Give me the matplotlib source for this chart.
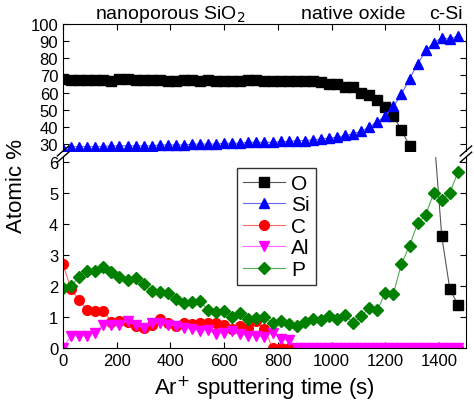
import numpy as np
import matplotlib
matplotlib.use("Agg")
import matplotlib.pyplot as plt

plt.rcParams['font.family'] = ['Liberation Sans', 'DejaVu Sans']

# sputtering time (s), every 30 s
time_s = list(range(0, 1500, 30))

oxygen = [68, 67.5, 67.5, 67.5, 67.5, 67.5, 67, 68, 68, 67.5,
          67.5, 67.5, 67.5, 67, 67, 67.5, 67.5, 67, 67.5, 67,
          67, 67, 67, 67.5, 67.5, 67, 67, 67, 67, 67,
          67, 66.5, 66, 65, 65, 63.5, 63, 60, 58.5, 55.5,
          51.5, 46.5, 38, 29, 18, 11, 7, 3.6, 1.9, 1.4]

silicon = [27, 28.5, 28.5, 28.5, 28.5, 28.5, 29, 29, 29, 29,
           29, 29, 29.5, 29.5, 29.5, 29.5, 30, 30, 30, 30,
           30.5, 30.5, 30.5, 31, 31, 31, 31, 31.5, 31.5, 32,
           32, 32.5, 33, 33.5, 34, 35, 36, 37.5, 40, 43,
           46.5, 52, 59, 68, 76.5, 84.5, 89, 92, 91, 93]

carbon = [2.7, 1.9, 1.55, 1.22, 1.2, 1.2, 0.85, 0.88, 0.85, 0.7,
          0.65, 0.75, 0.95, 0.82, 0.7, 0.82, 0.78, 0.8, 0.82, 0.82,
          0.75, 0.6, 0.7, 0.65, 0.88, 0.62, 0, 0, 0, 0,
          0, 0, 0, 0, 0, 0, 0, 0, 0, 0,
          0, 0, 0, 0, 0, 0, 0, 0, 0, 0]

aluminium = [0, 0.4, 0.4, 0.4, 0.5, 0.75, 0.75, 0.75, 0.88, 0.75,
             0.65, 0.8, 0.82, 0.75, 0.72, 0.65, 0.6, 0.55, 0.58, 0.45,
             0.5, 0.55, 0.45, 0.4, 0.4, 0.35, 0.5, 0.3, 0.25, 0,
             0, 0, 0, 0, 0, 0, 0, 0, 0, 0,
             0, 0, 0, 0, 0, 0, 0, 0, 0, 0]

phosphorus = [1.95, 2.0, 2.3, 2.5, 2.5, 2.62, 2.45, 2.28, 2.2, 2.25,
              2.05, 1.85, 1.8, 1.78, 1.58, 1.45, 1.5, 1.52, 1.22, 1.15,
              1.18, 1.0, 1.12, 0.92, 0.98, 1.0, 0.8, 0.88, 0.78, 0.7,
              0.85, 0.92, 0.9, 1.02, 0.95, 1.05, 0.82, 1.02, 1.3, 1.22,
              1.78, 1.75, 2.72, 3.3, 4.02, 4.3, 5.0, 4.78, 5.0, 5.68]

series = [
    ("O", oxygen, "black", "s", "#555555"),
    ("Si", silicon, "blue", "^", "#6666ff"),
    ("C", carbon, "red", "o", "#ff6666"),
    ("Al", aluminium, "magenta", "v", "#ff66ff"),
    ("P", phosphorus, "green", "D", "#55aa55"),
]

fig = plt.figure(figsize=(4.74, 4.14), dpi=100)
ax_top = fig.add_axes([0.133, 0.633, 0.85, 0.307])
ax_bot = fig.add_axes([0.133, 0.157, 0.85, 0.461])

for ax in (ax_top, ax_bot):
    for name, vals, col, mk, lc in series:
        ax.plot(time_s, vals, color=lc, lw=0.8, marker=mk, ms=7 if mk != "D" else 6,
                mfc=col, mec=col, label=name)
    ax.set_xlim(0, 1500)
    ax.tick_params(direction='in', labelsize=12, top=True, right=True, length=4)
    ax.set_xticks(range(0, 1600, 200))

ax_top.set_ylim(26, 100)
ax_top.set_yticks(range(30, 101, 10))
ax_top.tick_params(labelbottom=False, bottom=False)
ax_top.spines['bottom'].set_visible(False)

ax_bot.set_ylim(0, 6.16)
ax_bot.set_yticks(range(0, 7))
ax_bot.tick_params(top=False)
ax_bot.spines['top'].set_visible(False)
ax_bot.set_xlabel("Ar$^{+}$ sputtering time (s)", fontsize=16)
fig.text(0.035, 0.55, "Atomic %", rotation=90, fontsize=16, ha='center', va='center')

# break marks
d = 0.012
for xx in (0, 1):
    for yy in (0.633, 0.618):
        fig.lines.append(plt.Line2D([0.133 + 0.85 * xx - d, 0.133 + 0.85 * xx + d],
                                    [yy - d, yy + d], color='black', lw=1,
                                    transform=fig.transFigure))

ax_bot.legend(loc='upper left', bbox_to_anchor=(0.405, 1.0), fontsize=15,
              fancybox=False, edgecolor='black', handlelength=2.0,
              borderpad=0.3, labelspacing=0.12, handletextpad=0.3)

fig.text(0.36, 0.965, "nanoporous SiO$_2$", fontsize=14, ha='center', va='center')
fig.text(0.745, 0.965, "native oxide", fontsize=14, ha='center', va='center')
fig.text(0.94, 0.965, "c-Si", fontsize=14, ha='center', va='center')

fig.savefig("out.png", dpi=100)
